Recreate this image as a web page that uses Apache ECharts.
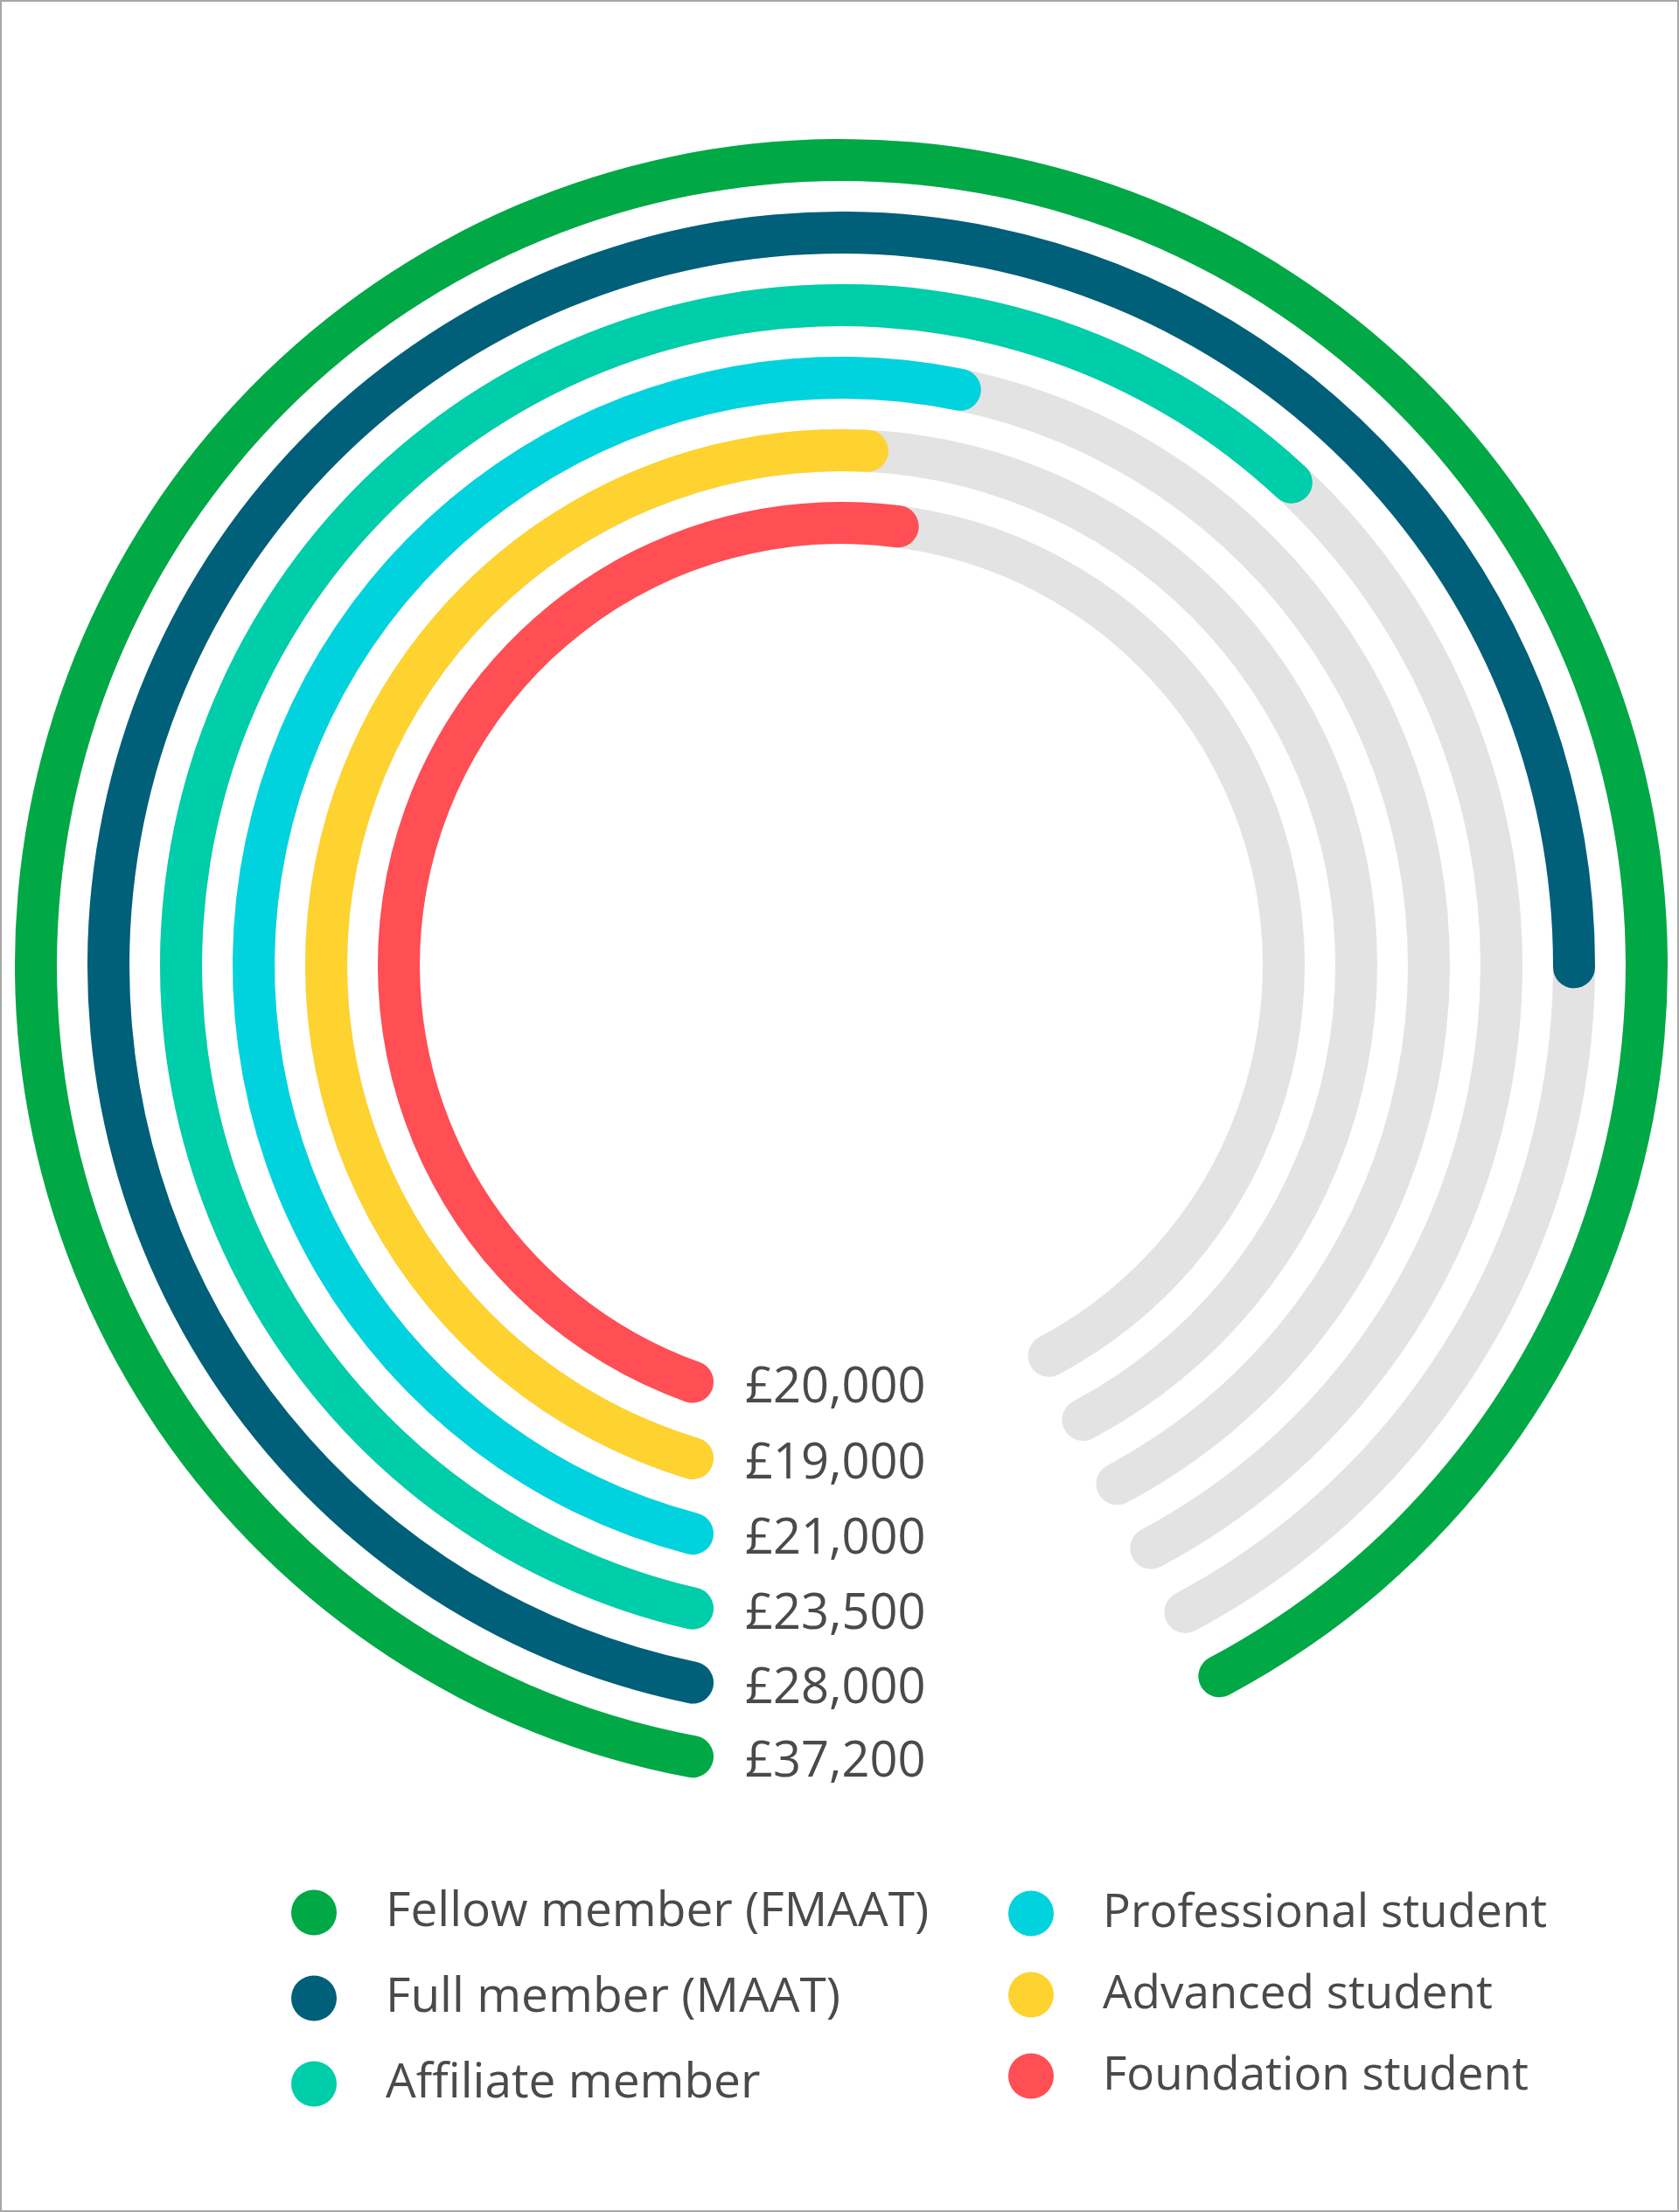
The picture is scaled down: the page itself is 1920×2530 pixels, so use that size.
<!DOCTYPE html>
<html>
<head>
<meta charset="utf-8">
<script src="https://cdn.jsdelivr.net/npm/echarts@6/dist/echarts.min.js"></script>
<style>
html,body{margin:0;padding:0;background:#ffffff;}
#chart{width:1920px;height:2530px;}
</style>
</head>
<body>
<div id="chart"></div>
<script>
// ---- data ----
const categories = [
  'Fellow member (FMAAT)',
  'Full member (MAAT)',
  'Affiliate member',
  'Professional student',
  'Advanced student',
  'Foundation student'
];
const salaries = [37200, 28000, 23500, 21000, 19000, 20000];
// full-scale value of each ring's grey track
const ringMax = [37200, 34700, 35700, 37650, 36050, 37250];
const legendLeft = categories.slice(0, 3);
const legendRight = categories.slice(3);

// ---- styles / layout ----
const colors = ['#00a846', '#005f79', '#00cda9', '#00d3de', '#fed330', '#ff4e54'];
const trackColor = '#e3e3e3';
const CX = 962, CY = 1104;
const ringR = [921, 838, 755, 672, 589, 506];   // centre-line radii
const BAR_W = 48;
const CAP_X = 792;          // x of the starting caps' centres
const END_ANGLE = -62;      // end of every grey track
const LABEL_X = 852;
const FONT = '"Open Sans", "Noto Sans", sans-serif';
const textColor = '#4a4a4a';

const fmt = v => '£' + v.toLocaleString('en-GB');
const startAngles = ringR.map(r => 270 - Math.asin((CX - CAP_X) / r) * 180 / Math.PI);

const series = categories.map((name, i) => ({
  type: 'gauge',
  name: name,
  center: [CX, CY],
  radius: ringR[i] + BAR_W / 2,
  startAngle: startAngles[i],
  endAngle: END_ANGLE,
  clockwise: true,
  min: 0,
  max: ringMax[i],
  itemStyle: { color: colors[i] },
  progress: { show: true, width: BAR_W, roundCap: true, overlap: true },
  axisLine: { show: true, roundCap: true, lineStyle: { width: BAR_W, color: [[1, trackColor]] } },
  pointer: { show: false },
  anchor: { show: false },
  axisTick: { show: false },
  splitLine: { show: false },
  axisLabel: { show: false },
  title: { show: false },
  detail: { show: false },
  data: [{ name: name, value: salaries[i] }]
}));

const labelTexts = categories.map((name, i) => {
  const r = ringR[i];
  const phi = Math.asin((CX - CAP_X) / r);
  const y = CY + r * Math.cos(phi) + 7;
  return {
    type: 'text',
    x: LABEL_X,
    y: y,
    style: {
      text: fmt(salaries[i]),
      fontFamily: FONT,
      fontSize: 56,
      fill: textColor,
      align: 'left',
      verticalAlign: 'middle'
    }
  };
});

const legendCommon = {
  orient: 'vertical',
  icon: 'circle',
  itemWidth: 154,
  itemHeight: 52,
  selectedMode: false
};

const option = {
  backgroundColor: '#ffffff',
  animation: false,
  legend: [
    Object.assign({}, legendCommon, {
      data: legendLeft, left: 328, top: 2155, itemGap: 43,
      textStyle: { fontFamily: FONT, fontSize: 55, color: textColor, lineHeight: 52 }
    }),
    Object.assign({}, legendCommon, {
      data: legendRight, left: 1148, top: 2157, itemGap: 40,
      textStyle: { fontFamily: FONT, fontSize: 53, color: textColor, lineHeight: 52 }
    })
  ],
  graphic: [
    {
      type: 'rect',
      shape: { x: 1, y: 1, width: 1918, height: 2528 },
      style: { fill: 'none', stroke: '#a8a8a8', lineWidth: 2 },
      silent: true
    }
  ].concat(labelTexts),
  series: series
};

const chart = echarts.init(document.getElementById('chart'));
chart.setOption(option);
</script>
</body>
</html>
